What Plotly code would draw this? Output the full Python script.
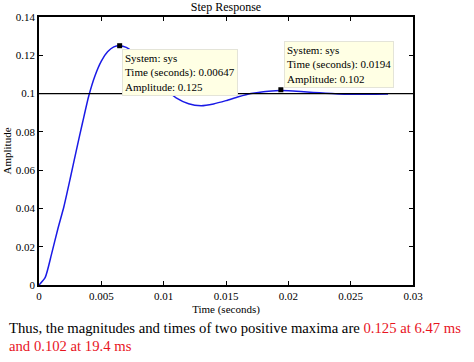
import plotly.graph_objects as go

# ---- data ----
time_s = [0, 0.0005, 0.001, 0.0015, 0.002, 0.0025, 0.003, 0.0035, 0.004, 0.0045,
          0.005, 0.0055, 0.006, 0.00647, 0.007, 0.0075, 0.008, 0.0085, 0.009, 0.0095,
          0.01, 0.0105, 0.011, 0.012, 0.013, 0.014, 0.015, 0.016, 0.017, 0.018,
          0.019, 0.0194, 0.020, 0.021, 0.022, 0.023, 0.024, 0.025, 0.026, 0.027, 0.028]
amplitude = [0, 0.0040, 0.0160, 0.0290, 0.0410, 0.0555, 0.0705, 0.0850, 0.0990, 0.1095,
             0.1170, 0.1218, 0.1244, 0.125, 0.1241, 0.1218, 0.1187, 0.1150, 0.1110, 0.1070,
             0.1035, 0.1003, 0.0978, 0.0947, 0.0937, 0.0946, 0.0963, 0.0983, 0.1000, 0.1010,
             0.1015, 0.1016, 0.1015, 0.1011, 0.1006, 0.1002, 0.0998, 0.0996, 0.0996, 0.0997, 0.0998]
final_time = [0, 0.03]
final_value = [0.1, 0.1]
peak_times = [0.00647, 0.0194]
peak_amps = [0.125, 0.102]
x_ticks = [0, 0.005, 0.01, 0.015, 0.02, 0.025, 0.03]
x_tick_labels = ["0", "0.005", "0.01", "0.015", "0.02", "0.025", "0.03"]
y_ticks = [0, 0.02, 0.04, 0.06, 0.08, 0.1, 0.12, 0.14]
y_tick_labels = ["0", "0.02", "0.04", "0.06", "0.08", "0.1", "0.12", "0.14"]

FONT = "'Liberation Serif', serif"

fig = go.Figure()
fig.add_trace(go.Scatter(x=time_s, y=amplitude, mode="lines",
                         line=dict(color="#1a1ae6", width=1.5, shape="spline", smoothing=0.6),
                         hoverinfo="skip"))
fig.add_trace(go.Scatter(x=final_time, y=final_value, mode="lines",
                         line=dict(color="black", width=1.2), hoverinfo="skip"))
fig.add_trace(go.Scatter(x=peak_times, y=peak_amps, mode="markers",
                         marker=dict(color="black", size=5, symbol="square"),
                         hoverinfo="skip"))

ann = []
ann.append(dict(x=peak_times[0], y=peak_amps[0], xref="x", yref="y",
                text="System: sys<br>Time (seconds): 0.00647<br>Amplitude: 0.125",
                showarrow=False, xanchor="left", yanchor="top", align="left",
                xshift=2, yshift=-3, bgcolor="#ffffe4", bordercolor="#e4e4d8",
                borderwidth=1, borderpad=2,
                font=dict(family=FONT, size=11, color="black")))
ann.append(dict(x=peak_times[1], y=peak_amps[1], xref="x", yref="y",
                text="System: sys<br>Time (seconds): 0.0194<br>Amplitude: 0.102",
                showarrow=False, xanchor="left", yanchor="bottom", align="left",
                xshift=3, yshift=2, bgcolor="#ffffe4", bordercolor="#e4e4d8",
                borderwidth=1, borderpad=2,
                font=dict(family=FONT, size=11, color="black")))
ann.append(dict(x=0, y=0, xref="paper", yref="paper",
                text="Thus, the magnitudes and times of two positive maxima are "
                     "<span style='color:#e8141e'>0.125 at 6.47 ms</span>",
                showarrow=False, xanchor="left", yanchor="middle", align="left",
                xshift=-32, yshift=-43,
                font=dict(family=FONT, size=14.7, color="black")))
ann.append(dict(x=0, y=0, xref="paper", yref="paper",
                text="and 0.102 at 19.4 ms",
                showarrow=False, xanchor="left", yanchor="middle", align="left",
                xshift=-32, yshift=-61,
                font=dict(family=FONT, size=14.7, color="#e8141e")))

fig.update_layout(
    width=474, height=362,
    margin=dict(l=39, r=61, t=17, b=77, autoexpand=False),
    paper_bgcolor="white", plot_bgcolor="white",
    showlegend=False,
    font=dict(family=FONT, size=11, color="black"),
    title=dict(text="Step Response", x=226/474, xanchor="center",
               y=1 - 7/362, yanchor="middle",
               font=dict(family=FONT, size=12, color="black")),
    annotations=ann,
    xaxis=dict(range=[0, 0.03], tickvals=x_ticks, ticktext=x_tick_labels,
               ticks="inside", ticklen=4, tickcolor="black", tickwidth=1,
               showline=True, linecolor="black", linewidth=1.5, mirror="ticks",
               showgrid=False, zeroline=False, automargin=False,
               title=dict(text="Time (seconds)", standoff=4,
                          font=dict(family=FONT, size=11)),
               tickfont=dict(family=FONT, size=11)),
    yaxis=dict(range=[0, 0.14], tickvals=y_ticks, ticktext=y_tick_labels,
               ticks="inside", ticklen=4, tickcolor="black", tickwidth=1,
               showline=True, linecolor="black", linewidth=1.5, mirror="ticks",
               showgrid=False, zeroline=False, automargin=False,
               title=dict(text="Amplitude", standoff=2,
                          font=dict(family=FONT, size=11)),
               tickfont=dict(family=FONT, size=11)),
)

fig.write_html("out.html", config={"displayModeBar": False},
               post_script="document.body.style.margin='0';")
